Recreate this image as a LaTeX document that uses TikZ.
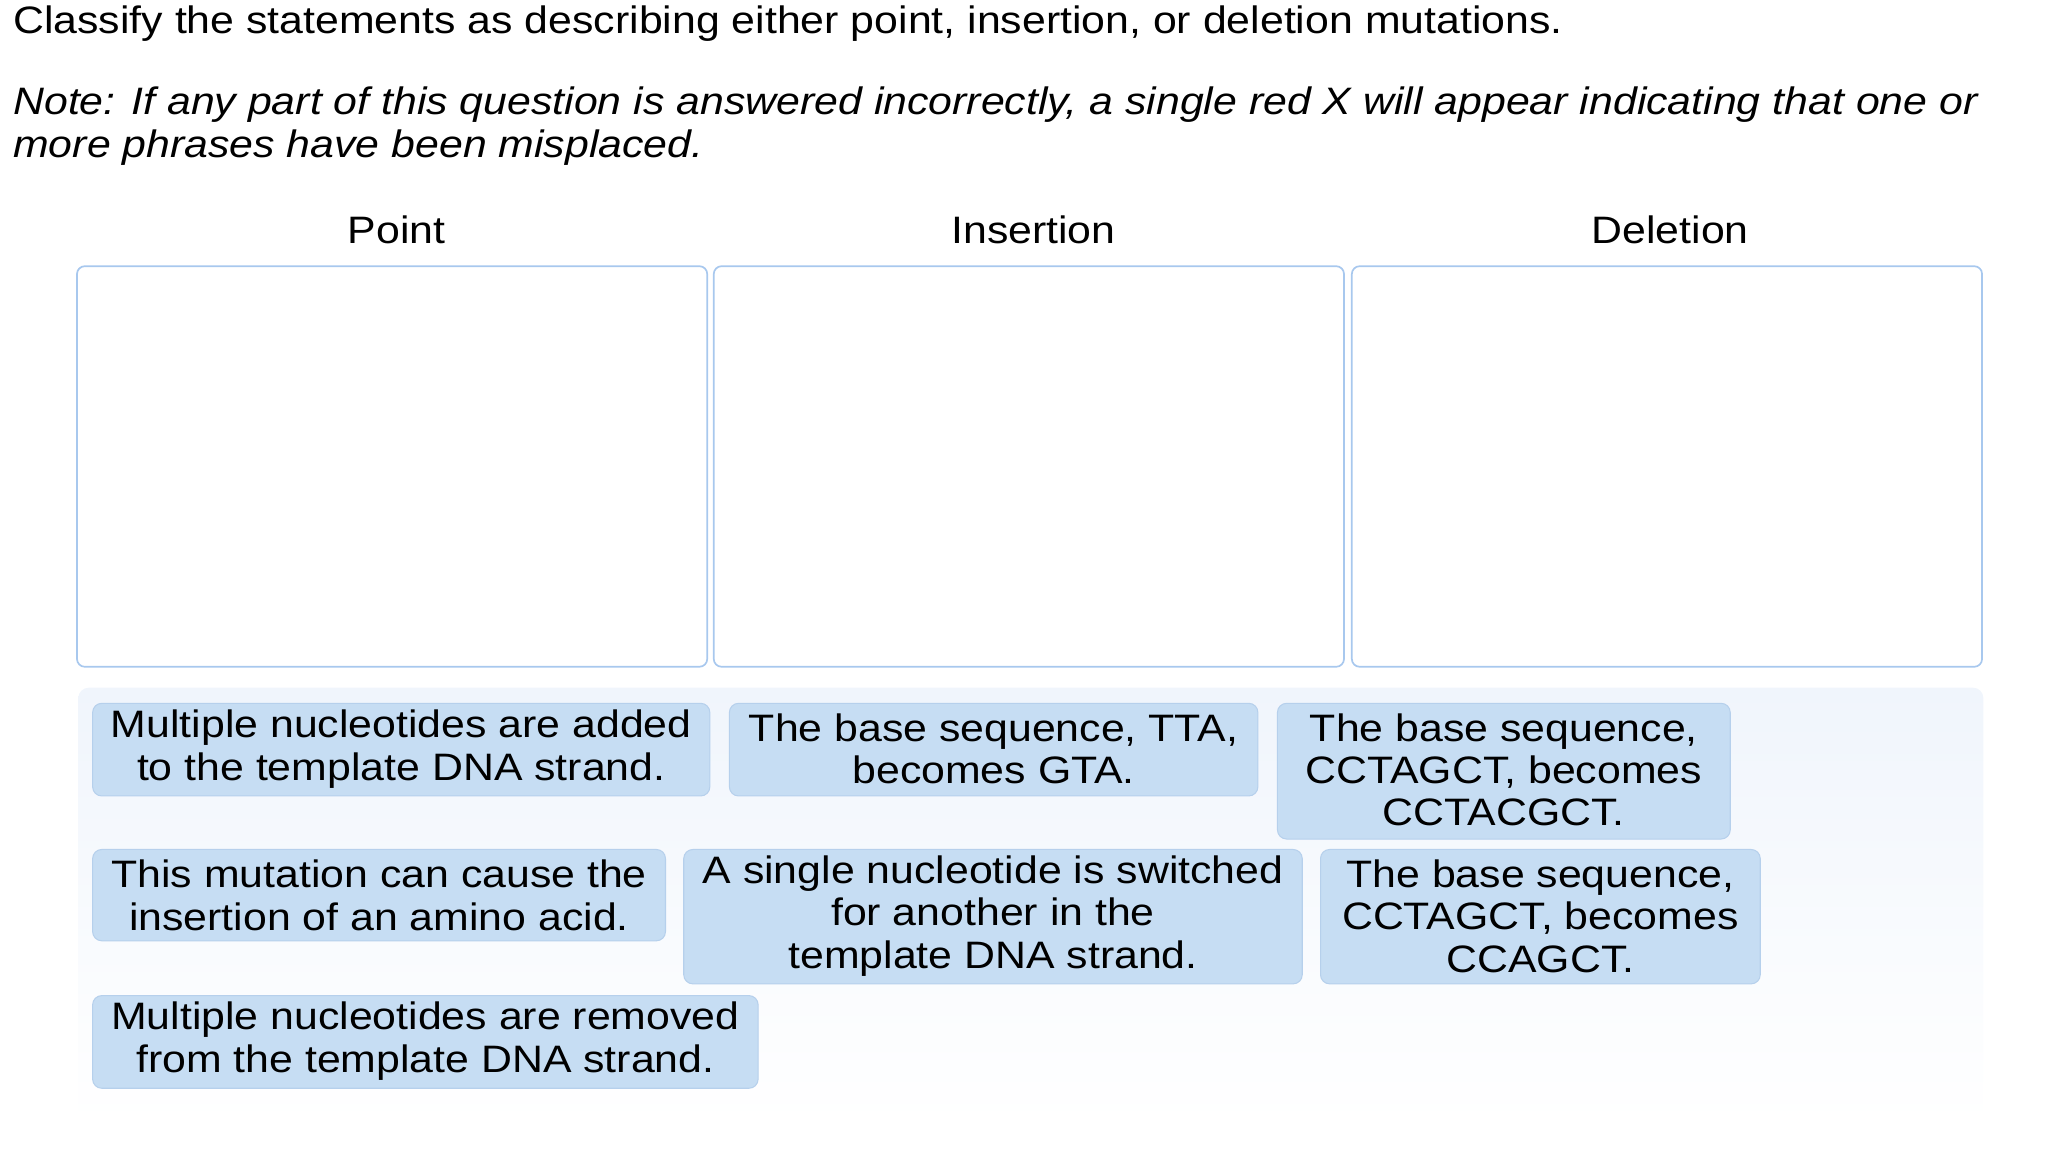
\documentclass[tikz,border=0pt]{standalone}
\usepackage{fontspec}
\setmainfont{Liberation Sans}[FakeStretch=1.12]
\definecolor{boxline}{HTML}{A8C8EE}
\definecolor{chip}{HTML}{C6DDF3}
\definecolor{chipline}{HTML}{B6D0EC}
\definecolor{pool}{HTML}{F0F5FC}
\begin{document}
\begin{tikzpicture}[x=1pt,y=-1pt,
  bin/.style={draw=boxline,line width=1.3pt,rounded corners=6pt,fill=white},
  chipbox/.style={fill=chip,draw=chipline,line width=0.8pt,rounded corners=7pt},
  chiptext/.style={align=center,font=\fontsize{29.3}{32.5}\selectfont,inner sep=0pt},
  head/.style={font=\fontsize{29.3}{30}\selectfont,inner sep=0pt}]
\useasboundingbox (0,0) rectangle (1568,883);
\node[anchor=base west,font=\fontsize{29.3}{30}\selectfont,inner sep=0pt] (title) at (10,26) {Classify the statements as describing either point, insertion, or deletion mutations.};
\node[anchor=north west,align=left,font=\itshape\fontsize{29.3}{33}\selectfont,inner sep=0pt] (note) at (10,66) {Note: If any part of this question is answered incorrectly, a single red X will appear indicating that one or\\more phrases have been misplaced.};
\node[head] (h1) at (304,176) {Point};
\node[head] (h2) at (792,176) {Insertion};
\node[head] (h3) at (1280,176) {Deletion};
\draw[bin] (59,204) rectangle (542,511);
\draw[bin] (547,204) rectangle (1030,511);
\draw[bin] (1036,204) rectangle (1519,511);
\shade[top color=pool,bottom color=white,rounded corners=8pt] (60,527) rectangle (1520,862);
\draw[chipbox] (71,539) rectangle (544,610);
\node[chiptext] (c1) at (307.5,574) {Multiple nucleotides are added\\to the template DNA strand.};
\draw[chipbox] (559,539) rectangle (964,610);
\node[chiptext] (c2) at (761.5,574) {The base sequence, TTA,\\becomes GTA.};
\draw[chipbox] (979,539) rectangle (1326,643);
\node[chiptext] (c3) at (1152.5,590) {The base sequence,\\CCTAGCT, becomes\\CCTACGCT.};
\draw[chipbox] (71,651) rectangle (510,721);
\node[chiptext] (c4) at (290.5,686) {This mutation can cause the\\insertion of an amino acid.};
\draw[chipbox] (524,651) rectangle (998,754);
\node[chiptext] (c5) at (761,702) {A single nucleotide is switched\\for another in the\\template DNA strand.};
\draw[chipbox] (1012,651) rectangle (1349,754);
\node[chiptext] (c6) at (1180.5,702) {The base sequence,\\CCTAGCT, becomes\\CCAGCT.};
\draw[chipbox] (71,763) rectangle (581,834);
\node[chiptext] (c7) at (326,798) {Multiple nucleotides are removed\\from the template DNA strand.};
\end{tikzpicture}
\end{document}
